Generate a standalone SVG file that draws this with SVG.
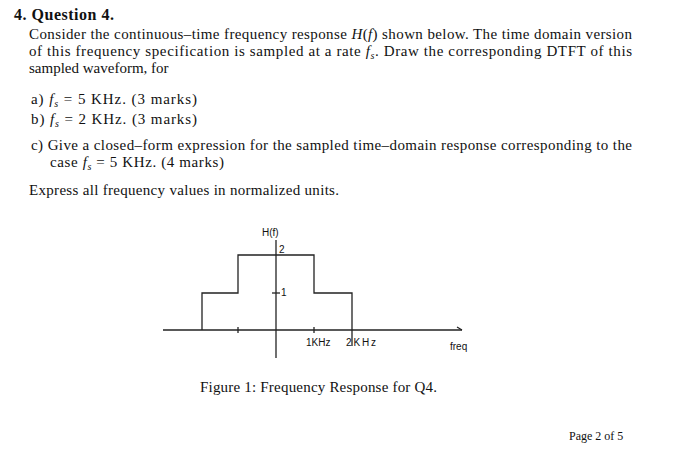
<svg xmlns="http://www.w3.org/2000/svg" width="673" height="462" viewBox="0 0 673 462">
<style>
text{font-family:"Liberation Serif",serif;font-size:15px;fill:#111}
.h{font-size:10px;font-family:"Liberation Sans",sans-serif}
.ln{stroke:#222;stroke-width:1.3;fill:none}
</style>
<rect width="673" height="462" fill="#fff"/>
<g id="question">
<text x="14" y="20" style="font-weight:bold;font-size:16px" textLength="100">4. Question 4.</text>
<text x="29" y="39" textLength="603" lengthAdjust="spacing">Consider the continuous–time frequency response <tspan font-style="italic">H</tspan>(<tspan font-style="italic">f</tspan>) shown below. The time domain version</text>
<text x="29" y="56" textLength="603" lengthAdjust="spacing">of this frequency specification is sampled at a rate <tspan font-style="italic">f<tspan font-size="10" dy="3">s</tspan></tspan><tspan dy="-3">. Draw the corresponding DTFT of this</tspan></text>
<text x="29" y="73">sampled waveform, for</text>
<text x="31" y="104" textLength="166" lengthAdjust="spacing">a) <tspan font-style="italic">f<tspan font-size="10" dy="3">s</tspan></tspan><tspan dy="-3"> = 5 KHz. (3 marks)</tspan></text>
<text x="31" y="124" textLength="166" lengthAdjust="spacing">b) <tspan font-style="italic">f<tspan font-size="10" dy="3">s</tspan></tspan><tspan dy="-3"> = 2 KHz. (3 marks)</tspan></text>
<text x="31" y="150" textLength="601" lengthAdjust="spacing">c) Give a closed–form expression for the sampled time–domain response corresponding to the</text>
<text x="50" y="167" textLength="174" lengthAdjust="spacing">case <tspan font-style="italic">f<tspan font-size="10" dy="3">s</tspan></tspan><tspan dy="-3"> = 5 KHz. (4 marks)</tspan></text>
<text x="29" y="195" textLength="310" lengthAdjust="spacing">Express all frequency values in normalized units.</text>
</g>
<g id="connectors">
<line class="ln" x1="163" y1="330" x2="462" y2="330"/>
<line class="ln" x1="276" y1="240" x2="276" y2="358" stroke-width="0.9"/>
<polyline class="ln" points="202,330 202,293 238,293 238,255 314,255 314,293 352,293 352,330"/>
<line class="ln" x1="272" y1="293" x2="280" y2="293"/>
<line class="ln" x1="238" y1="327" x2="238" y2="333"/>
<line class="ln" x1="314" y1="327" x2="314" y2="333"/>
<line class="ln" x1="352" y1="330" x2="352" y2="346" stroke-width="0.9"/>
<line class="ln" x1="457" y1="327" x2="462" y2="330"/>
</g>
<g id="labels">
<text class="h" x="262" y="236">H(f)</text>
<text class="h" x="279" y="253" font-size="7">2</text>
<text class="h" x="281" y="296" font-size="7">1</text>
<text class="h" x="306" y="346" font-size="8">1KHz</text>
<text class="h" x="346" y="346" font-size="8" textLength="30">2KHz</text>
<text class="h" x="450" y="350" font-size="9">freq</text>
</g>
<g id="caption">
<text x="200" y="392" textLength="237" lengthAdjust="spacing">Figure 1: Frequency Response for Q4.</text>
<text x="569" y="440" style="font-size:12px">Page 2 of 5</text>
</g>
</svg>
